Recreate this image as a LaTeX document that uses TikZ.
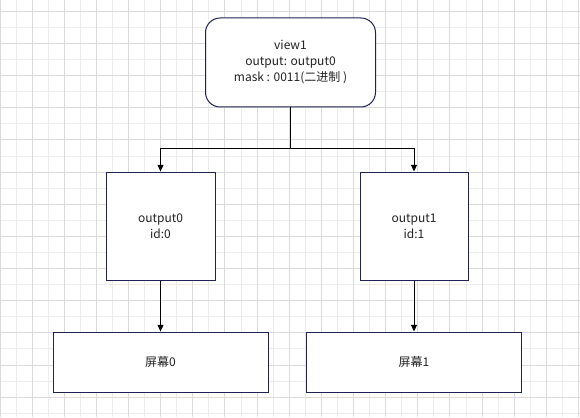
\documentclass[tikz,border=0pt]{standalone}
\usepackage{fontspec}
\setmainfont{Noto Sans CJK SC}
\usepackage{tikz}
\usetikzlibrary{arrows.meta}

\definecolor{boxline}{RGB}{30,34,84}
\definecolor{gridlight}{RGB}{236,236,236}
\definecolor{griddark}{RGB}{219,219,219}
\definecolor{txt}{RGB}{34,34,34}

\tikzset{
  box/.style={draw=boxline, line width=0.75pt, fill=white, inner sep=0pt, align=center, text=txt, font=\fontsize{9}{12}\selectfont},
  link/.style={draw=black, line width=0.75pt},
  tip/.style={link, -{Triangle[length=5pt,width=4.5pt]}}
}

\begin{document}
\begin{tikzpicture}[x=0.75pt,y=0.75pt,yscale=-1,xscale=1]
\useasboundingbox (0,0) rectangle (580,417);
\fill[white] (0,0) rectangle (580,417);

%Grid
\foreach \i in {1,3,...,35}
  \draw[gridlight, line width=0.75pt] ({\i*16.07},0) -- ({\i*16.07},417);
\foreach \j in {1,3,...,25}
  \draw[gridlight, line width=0.75pt] (0,{11.3+\j*16.08}) -- (580,{11.3+\j*16.08});
\foreach \i in {0,2,...,36}
  \draw[griddark, line width=0.75pt] ({\i*16.07},0) -- ({\i*16.07},417);
\foreach \j in {0,2,...,24}
  \draw[griddark, line width=0.75pt] (0,{11.3+\j*16.08}) -- (580,{11.3+\j*16.08});

%Rounded Rect
\node[box, rounded corners=11pt, minimum width=127.5pt, minimum height=66.75pt] (view) at (290.5,62.5) {view1\\output: output0\\mask : 0011(二进制 )};

%Shape: Rectangle
\node[box, minimum width=81.75pt, minimum height=81pt] (out0) at (160.5,226) {output0\\id:0};
\node[box, minimum width=81pt, minimum height=81pt] (out1) at (414,226) {output1\\id:1};

%Shape: Rectangle
\node[box, minimum width=161.25pt, minimum height=45pt] (scr0) at (160.5,362) {屏幕0};
\node[box, minimum width=161.25pt, minimum height=45pt] (scr1) at (414,362) {屏幕1};

%Connectors
\coordinate (split) at (290.5,148);
\draw[link] (view) -- (split);
\draw[tip] (split) -| (out0);
\draw[tip] (split) -| (out1);
\draw[tip] (out0) -- (scr0);
\draw[tip] (out1) -- (scr1);

\end{tikzpicture}
\end{document}
